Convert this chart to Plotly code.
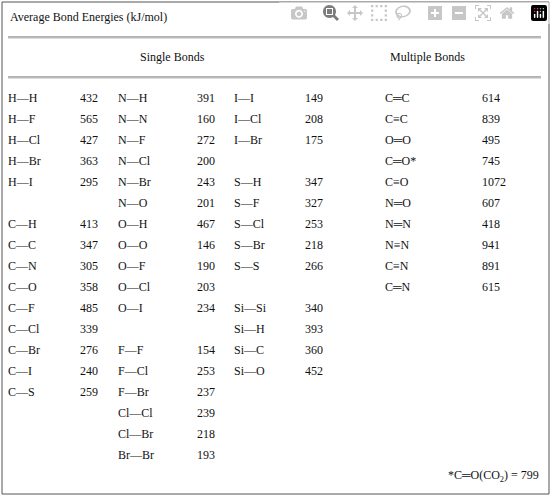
import plotly.graph_objects as go

# column 1: hydrogen / carbon single bonds (None = blank row)
bonds1 = ["H—H", "H—F", "H—Cl", "H—Br", "H—I", None,
          "C—H", "C—C", "C—N", "C—O", "C—F", "C—Cl", "C—Br", "C—I", "C—S"]
vals1 = [432, 565, 427, 363, 295, None, 413, 347, 305, 358, 485, 339, 276, 240, 259]

bonds2 = ["N—H", "N—N", "N—F", "N—Cl", "N—Br", "N—O", "O—H", "O—O", "O—F", "O—Cl",
          "O—I", None, "F—F", "F—Cl", "F—Br", "Cl—Cl", "Cl—Br", "Br—Br"]
vals2 = [391, 160, 272, 200, 243, 201, 467, 146, 190, 203, 234, None, 154, 253, 237, 239, 218, 193]

bonds3 = ["I—I", "I—Cl", "I—Br", None, "S—H", "S—F", "S—Cl", "S—Br", "S—S", None,
          "Si—Si", "Si—H", "Si—C", "Si—O"]
vals3 = [149, 208, 175, None, 347, 327, 253, 218, 266, None, 340, 393, 360, 452]

bonds_m = ["C═C", "C≡C", "O═O", "C═O*", "C≡O", "N═O", "N═N", "N≡N", "C≡N", "C═N"]
vals_m = [614, 839, 495, 745, 1072, 607, 418, 941, 891, 615]

cols = [(bonds1, vals1, 8, 80), (bonds2, vals2, 118, 197),
        (bonds3, vals3, 234, 305), (bonds_m, vals_m, 385, 482)]

font = dict(family="Liberation Serif, DejaVu Serif", size=12, color="#111")
fig = go.Figure()
for bonds, vals, xb, xv in cols:
    xs, ys, ts = [], [], []
    for i, (b, v) in enumerate(zip(bonds, vals)):
        if b is None:
            continue
        xs += [xb, xv]
        ys += [99 + 21 * i] * 2
        ts += [b, str(v)]
    fig.add_trace(go.Scatter(x=xs, y=ys, text=ts, mode="text", textposition="middle right",
                             textfont=font, showlegend=False, hoverinfo="skip"))

def note(x, y, t, anchor="left"):
    fig.add_annotation(x=x, y=y, text=t, showarrow=False, xanchor=anchor, yanchor="middle",
                       font=font, xref="x", yref="y")

note(8, 17, "Average Bond Energies (kJ/mol)")
note(172, 57, "Single Bonds", "center")
note(427, 57, "Multiple Bonds", "center")
note(541, 476, "*C═O(CO<sub>2</sub>) = 799", "right")

shapes = [dict(type="rect", x0=2, x1=549, y0=2, y1=494, line=dict(color="#555", width=1))]
for y in (37, 77):
    shapes.append(dict(type="line", x0=8, x1=541, y0=y, y1=y, line=dict(color="#666", width=1)))
    shapes.append(dict(type="line", x0=8, x1=541, y0=y + 1.2, y1=y + 1.2, line=dict(color="#ccc", width=1)))

fig.update_layout(width=553, height=497, margin=dict(l=0, r=0, t=0, b=0),
                  plot_bgcolor="white", paper_bgcolor="white", shapes=shapes,
                  xaxis=dict(range=[0, 553], visible=False),
                  yaxis=dict(range=[497, 0], visible=False))
# page body has a default 8px margin, drop it so the table sits flush
fig.write_html("out.html", post_script="document.body.style.margin='0';")
